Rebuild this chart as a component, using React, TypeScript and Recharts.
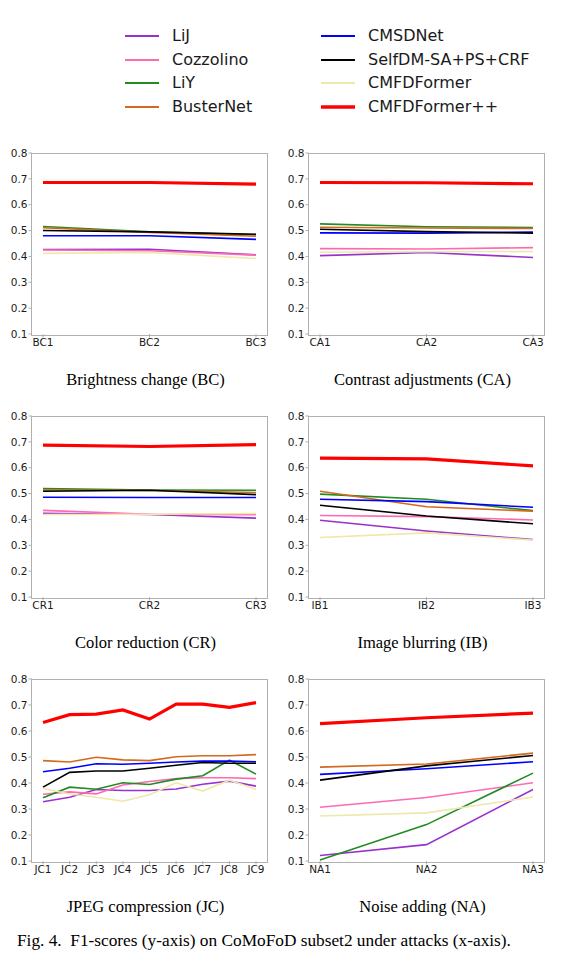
import React from 'react';
import { LineChart, Line, XAxis, YAxis } from 'recharts';

const methods = ['LiJ', 'Cozzolino', 'LiY', 'BusterNet', 'CMSDNet', 'SelfDM-SA+PS+CRF', 'CMFDFormer', 'CMFDFormer++'];
const yTicks = [0.1, 0.2, 0.3, 0.4, 0.5, 0.6, 0.7, 0.8];

// rows follow the order of `methods`
const bcCategories = ['BC1', 'BC2', 'BC3'];
const bcValues = [
  [0.427, 0.428, 0.406],
  [0.425, 0.422, 0.405],
  [0.516, 0.495, 0.484],
  [0.511, 0.493, 0.478],
  [0.480, 0.480, 0.466],
  [0.500, 0.495, 0.486],
  [0.412, 0.415, 0.392],
  [0.686, 0.686, 0.680],
];

const caCategories = ['CA1', 'CA2', 'CA3'];
const caValues = [
  [0.403, 0.415, 0.396],
  [0.430, 0.429, 0.434],
  [0.526, 0.515, 0.512],
  [0.513, 0.510, 0.508],
  [0.491, 0.490, 0.494],
  [0.505, 0.496, 0.490],
  [0.416, 0.418, 0.419],
  [0.686, 0.685, 0.681],
];

const crCategories = ['CR1', 'CR2', 'CR3'];
const crValues = [
  [0.424, 0.419, 0.405],
  [0.435, 0.420, 0.418],
  [0.519, 0.514, 0.513],
  [0.514, 0.512, 0.504],
  [0.486, 0.485, 0.485],
  [0.509, 0.513, 0.496],
  [0.419, 0.420, 0.423],
  [0.687, 0.682, 0.689],
];

const ibCategories = ['IB1', 'IB2', 'IB3'];
const ibValues = [
  [0.397, 0.355, 0.322],
  [0.415, 0.411, 0.398],
  [0.498, 0.478, 0.434],
  [0.509, 0.449, 0.432],
  [0.478, 0.469, 0.447],
  [0.455, 0.413, 0.383],
  [0.330, 0.348, 0.320],
  [0.637, 0.634, 0.607],
];

const jcCategories = ['JC1', 'JC2', 'JC3', 'JC4', 'JC5', 'JC6', 'JC7', 'JC8', 'JC9'];
const jcValues = [
  [0.328, 0.345, 0.375, 0.371, 0.371, 0.377, 0.395, 0.407, 0.388],
  [0.357, 0.366, 0.358, 0.392, 0.406, 0.417, 0.420, 0.420, 0.417],
  [0.343, 0.384, 0.376, 0.401, 0.394, 0.415, 0.428, 0.488, 0.434],
  [0.486, 0.481, 0.499, 0.489, 0.486, 0.501, 0.505, 0.505, 0.509],
  [0.443, 0.457, 0.474, 0.472, 0.476, 0.481, 0.484, 0.484, 0.482],
  [0.384, 0.441, 0.446, 0.446, 0.457, 0.468, 0.479, 0.476, 0.476],
  [0.379, 0.358, 0.345, 0.330, 0.355, 0.401, 0.369, 0.411, 0.376],
  [0.633, 0.663, 0.665, 0.681, 0.646, 0.703, 0.703, 0.691, 0.709],
];

const naCategories = ['NA1', 'NA2', 'NA3'];
const naValues = [
  [0.121, 0.163, 0.375],
  [0.307, 0.344, 0.401],
  [0.104, 0.240, 0.438],
  [0.461, 0.473, 0.515],
  [0.433, 0.455, 0.482],
  [0.411, 0.466, 0.506],
  [0.273, 0.285, 0.346],
  [0.628, 0.651, 0.669],
];

const COLORS = ['#9932cc', '#ff69b4', '#228b22', '#d2691e', '#0000ff', '#000000', '#eee8aa', '#ff0000'];
const WIDTHS = [1.6, 1.6, 1.6, 1.6, 1.6, 1.6, 1.6, 3.2];

const SANS = 'DejaVu Sans';
const SERIF = '"Liberation Serif", "Times New Roman", serif';
const FRAME = '#b0b0b0';
const PLOT_W = 235;

interface PanelProps {
  x: number;
  y: number;
  h: number;
  categories: string[];
  values: number[][];
  title: string;
}

const Panel = ({ x, y, h, categories, values, title }: PanelProps) => {
  const data = categories.map((c, i) => {
    const row: Record<string, string | number> = { name: c };
    methods.forEach((m, k) => { row[m] = values[k][i]; });
    return row;
  });
  const tickStyle = { fontSize: 10.5, fill: '#1a1a1a', fontFamily: SANS };

  return (
    <>
      <div style={{ position: 'absolute', left: x - 32, top: y - 10 }}>
        <LineChart width={32 + PLOT_W + 10} height={10 + h + 30} data={data}
          margin={{ top: 10, right: 10, left: 0, bottom: 0 }}>
          <XAxis dataKey="name" interval={0} padding={{ left: 11, right: 11 }} height={30}
            tick={tickStyle} tickSize={3.5} tickMargin={1} axisLine={false} stroke={FRAME} />
          <YAxis type="number" domain={[0.1, 0.8]} ticks={yTicks} allowDataOverflow width={32}
            tickFormatter={(v: number) => v.toFixed(1)} tick={tickStyle} tickSize={3.5} tickMargin={1}
            axisLine={false} stroke={FRAME} />
          {methods.map((m, k) => (
            <Line key={m} type="linear" dataKey={m} stroke={COLORS[k]} strokeWidth={WIDTHS[k]}
              dot={false} activeDot={false} isAnimationActive={false} />
          ))}
        </LineChart>
      </div>
      <div style={{
        position: 'absolute', left: x - 1, top: y, width: PLOT_W, height: h,
        border: `1px solid ${FRAME}`, pointerEvents: 'none',
      }} />
      <div style={{
        position: 'absolute', left: x + PLOT_W / 2 - 4 - 150, width: 300, top: y + h + 34, height: 24,
        lineHeight: '24px', textAlign: 'center', fontFamily: SERIF, fontSize: 16.5, color: '#000',
      }}>{title}</div>
    </>
  );
};

const LegendBox = () => (
  <>
    {methods.map((m, k) => {
      const col = Math.floor(k / 4);
      const row = k % 4;
      const lx = col === 0 ? 125 : 321;
      const cy = 36 + row * 23.7;
      return (
        <React.Fragment key={m}>
          <svg style={{ position: 'absolute', left: lx, top: cy - 5 }} width={34} height={10}>
            <line x1={0} y1={5} x2={34} y2={5} stroke={COLORS[k]} strokeWidth={k === 7 ? 3.5 : 2} />
          </svg>
          <div style={{
            position: 'absolute', left: lx + 47, top: cy - 11, height: 22, lineHeight: '22px',
            fontFamily: SANS, fontSize: 16, color: '#1a1a1a', whiteSpace: 'nowrap',
          }}>{m}</div>
        </React.Fragment>
      );
    })}
  </>
);

export default function App() {
  return (
    <div style={{ position: 'absolute', left: 0, top: 0, width: 572, height: 975, background: '#fff', overflow: 'hidden' }}>
      <LegendBox />
      <Panel x={32} y={153} h={181} categories={bcCategories} values={bcValues} title="Brightness change (BC)" />
      <Panel x={309} y={153} h={181} categories={caCategories} values={caValues} title="Contrast adjustments (CA)" />
      <Panel x={32} y={416} h={181} categories={crCategories} values={crValues} title="Color reduction (CR)" />
      <Panel x={309} y={416} h={181} categories={ibCategories} values={ibValues} title="Image blurring (IB)" />
      <Panel x={32} y={679} h={182} categories={jcCategories} values={jcValues} title="JPEG compression (JC)" />
      <Panel x={309} y={679} h={182} categories={naCategories} values={naValues} title="Noise adding (NA)" />
      <div style={{
        position: 'absolute', left: 17, top: 930, height: 22, lineHeight: '22px', whiteSpace: 'pre',
        fontFamily: SERIF, fontSize: 17.3, color: '#000',
      }}>{'Fig. 4.  F1-scores (y-axis) on CoMoFoD subset2 under attacks (x-axis).'}</div>
    </div>
  );
}
